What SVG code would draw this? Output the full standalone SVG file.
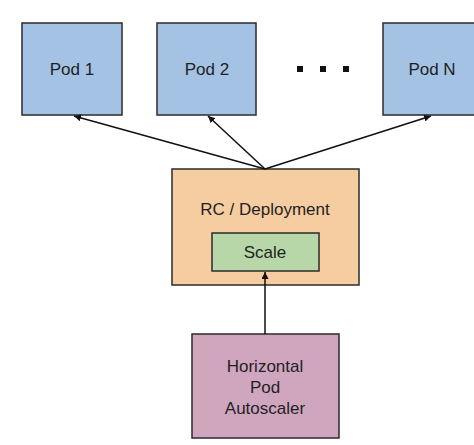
<svg xmlns="http://www.w3.org/2000/svg" width="474" height="445" viewBox="0 0 474 445">
<style>
.box{stroke:#2b2b2b;stroke-width:1.5}
.pod{fill:#a4c2e3}
.t{font-family:"Liberation Sans",Arial,sans-serif;font-size:17px;fill:#1f1f1f;text-anchor:middle}
.c{stroke:#111;stroke-width:1.5;fill:none;marker-end:url(#ah)}
</style>
<defs>
<marker id="ah" viewBox="0 0 10 10" refX="10" refY="5" markerWidth="7" markerHeight="7" markerUnits="userSpaceOnUse" orient="auto">
<path d="M0,0 L10,5 L0,10 z" fill="#111"/>
</marker>
</defs>
<rect width="474" height="445" fill="#fff"/>
<g id="pod1"><rect class="box pod" x="22" y="23" width="100" height="92"/><text class="t" x="72" y="75">Pod 1</text></g>
<g id="pod2"><rect class="box pod" x="157" y="23" width="99" height="92"/><text class="t" x="207" y="75">Pod 2</text></g>
<g id="ellipsis" fill="#111"><rect x="297" y="66" width="6" height="6"/><rect x="320" y="66" width="6" height="6"/><rect x="343" y="66" width="6" height="6"/></g>
<g id="podN"><rect class="box pod" x="383" y="23" width="100" height="92"/><text class="t" x="432" y="75">Pod N</text></g>
<g id="rc"><rect class="box" fill="#f6cda1" x="172" y="169" width="187" height="116"/><text class="t" x="265" y="215">RC / Deployment</text></g>
<g id="scale"><rect class="box" fill="#b7d7a8" x="212" y="233" width="107" height="38"/><text class="t" x="265" y="258">Scale</text></g>
<g id="hpa"><rect class="box" fill="#d0a6bf" x="192" y="334" width="147" height="104"/><text class="t" x="265" y="372">Horizontal</text><text class="t" x="265" y="393">Pod</text><text class="t" x="265" y="414">Autoscaler</text></g>
<g id="connectors">
<path class="c" d="M265,169 L74,116"/>
<path class="c" d="M265,169 L208,116"/>
<path class="c" d="M265,169 L431,116"/>
<path class="c" d="M265,334 L265,272"/>
</g>
</svg>
